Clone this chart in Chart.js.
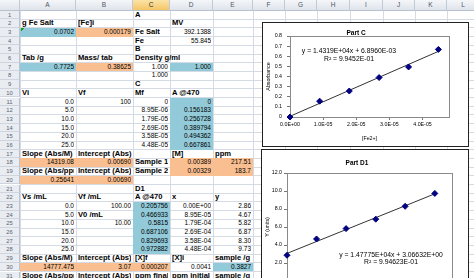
<!DOCTYPE html>
<html>
<head>
<meta charset="utf-8">
<script src="https://cdn.jsdelivr.net/npm/chart.js@4.4.1/dist/chart.umd.min.js"></script>
<style>
  html, body { margin: 0; padding: 0; background: #fff; }
  #sheet { position: relative; width: 474px; height: 278px; overflow: hidden;
           font-family: "Liberation Sans", Arial, sans-serif; background: #fff; }
  .gl { position: absolute; background: #d5dbe5; }
  .fill { position: absolute; }
  .cell { position: absolute; white-space: nowrap; overflow: hidden; font-size: 6.5px; color: #000; }
  .cell.b { font-weight: bold; font-size: 7.6px; }
  .hdr { position: absolute; background: linear-gradient(#f4f6f9, #dfe4eb); color: #4d5563;
         font-size: 6.5px; text-align: center; box-sizing: border-box;
         border-right: 1px solid #c3cad6; border-bottom: 1px solid #b9c2cf; }
  .hdr.sel { background: linear-gradient(#fbe3a6, #f4c667); color: #333; }
  .rowh { position: absolute; left: 0; width: 20px; background: #e9ecf1; color: #5a6270;
          font-size: 5.8px; text-align: center; box-sizing: border-box;
          border-right: 1px solid #b9c2cf; border-bottom: 1px solid #cfd5de; }
  .chartbox { position: absolute; border: 1px solid #222; background: #fff; }
  .chartbox canvas { position: absolute; left: 0; top: 0; }
</style>
</head>
<body>
<div id="sheet"></div>
<script>
// ---- sheet contents ----
// [cell, text, kind]  kind: 'b' = bold label (left), 'n' = number (right)
const SHEET_CELLS = [
  ['C1', 'A', 'b'],
  ['A2', 'g Fe Salt', 'b'], ['B2', '[Fe]i', 'b'], ['D2', 'MV', 'b'],
  ['A3', '0.0702', 'n'], ['B3', '0.000179', 'n'], ['C3', 'Fe Salt', 'b'], ['D3', '392.1388', 'n'],
  ['C4', 'Fe', 'b'], ['D4', '55.845', 'n'],
  ['C5', 'B', 'b'],
  ['A6', 'Tab /g', 'b'], ['B6', 'Mass/ tab', 'b'], ['C6', 'Density g/ml', 'b'],
  ['A7', '0.7725', 'n'], ['B7', '0.38625', 'n'], ['C7', '1.000', 'n'], ['D7', '1.000', 'n'],
  ['C8', '1.000', 'n'],
  ['C9', 'C', 'b'],
  ['A10', 'Vi', 'b'], ['B10', 'Vf', 'b'], ['C10', 'Mf', 'b'], ['D10', 'A @470', 'b'],
  ['A11', '0.0', 'n'], ['B11', '100', 'n'], ['C11', '0', 'n'], ['D11', '0', 'n'],
  ['A12', '5.0', 'n'], ['C12', '8.95E-06', 'n'], ['D12', '0.156183', 'n'],
  ['A13', '10.0', 'n'], ['C13', '1.79E-05', 'n'], ['D13', '0.256728', 'n'],
  ['A14', '15.0', 'n'], ['C14', '2.69E-05', 'n'], ['D14', '0.389794', 'n'],
  ['A15', '20.0', 'n'], ['C15', '3.58E-05', 'n'], ['D15', '0.494362', 'n'],
  ['A16', '25.0', 'n'], ['C16', '4.48E-05', 'n'], ['D16', '0.667861', 'n'],
  ['A17', 'Slope (Abs/M)', 'b'], ['B17', 'Intercept (Abs)', 'b'], ['D17', '[M]', 'b'], ['E17', 'ppm', 'b'],
  ['A18', '14319.08', 'n'], ['B18', '0.00690', 'n'], ['C18', 'Sample 1', 'b'], ['D18', '0.00389', 'n'], ['E18', '217.51', 'n'],
  ['A19', 'Slope (Abs/ppm)', 'b'], ['B19', 'Intercept (Abs)', 'b'], ['C19', 'Sample 2', 'b'], ['D19', '0.00329', 'n'], ['E19', '183.7', 'n'],
  ['A20', '0.25641', 'n'], ['B20', '0.00690', 'n'],
  ['C21', 'D1', 'b'],
  ['A22', 'Vs /mL', 'b'], ['B22', 'Vf /mL', 'b'], ['C22', 'A @470', 'b'], ['D22', 'x', 'b'], ['E22', 'y', 'b'],
  ['A23', '0.0', 'n'], ['B23', '100.00', 'n'], ['C23', '0.205756', 'n'], ['D23', '0.00E+00', 'n'], ['E23', '2.86', 'n'],
  ['A24', '5.0', 'n'], ['B24', 'V0 /mL', 'b'], ['C24', '0.466933', 'n'], ['D24', '8.95E-05', 'n'], ['E24', '4.67', 'n'],
  ['A25', '10.0', 'n'], ['B25', '10.00', 'n'], ['C25', '0.5815', 'n'], ['D25', '1.79E-04', 'n'], ['E25', '5.82', 'n'],
  ['A26', '15.0', 'n'], ['C26', '0.687106', 'n'], ['D26', '2.69E-04', 'n'], ['E26', '6.87', 'n'],
  ['A27', '20.0', 'n'], ['C27', '0.829693', 'n'], ['D27', '3.58E-04', 'n'], ['E27', '8.30', 'n'],
  ['A28', '25.0', 'n'], ['C28', '0.972882', 'n'], ['D28', '4.48E-04', 'n'], ['E28', '9.73', 'n'],
  ['A29', 'Slope (Abs/M)', 'b'], ['B29', 'Intercept (Abs)', 'b'], ['C29', '[X]f', 'b'], ['D29', '[X]i', 'b'], ['E29', 'sample /g', 'b'],
  ['A30', '14777.475', 'n'], ['B30', '3.07', 'n'], ['C30', '0.000207', 'n'], ['D30', '0.0041', 'n'], ['E30', '0.3827', 'n'],
  ['A31', 'Slope (Abs/ppm)', 'b'], ['B31', 'Intercept (Abs)', 'b'], ['C31', 'ppm final', 'b'], ['D31', 'ppm initial', 'b'], ['E31', 'sample /g', 'b']
];
const BLUE_CELLS = ['A3', 'A7', 'D7', 'D11', 'D12', 'D13', 'D14', 'D15', 'D16',
  'C23', 'C24', 'C25', 'C26', 'C27', 'C28', 'E30'];
const ORANGE_CELLS = ['B3', 'B7', 'A18', 'B18', 'D18', 'E18', 'D19', 'E19', 'A20', 'B20',
  'A30', 'B30', 'C30'];

// ---- chart data ----
const PART_C_MF = [0, 8.95e-6, 1.79e-5, 2.69e-5, 3.58e-5, 4.48e-5];
const PART_C_ABS = [0, 0.156183, 0.256728, 0.389794, 0.494362, 0.667861];
const PART_C_FIT = [1.4319e4, 6.8960e-3, 9.9452e-1];      // slope, intercept, R2
const PART_C_X_AXIS = [0, 4.8e-5, 1e-5];                   // min, max, step
const PART_C_Y_AXIS = [0, 0.8, 0.1];

const PART_D1_X = [0, 8.95e-5, 1.79e-4, 2.69e-4, 3.58e-4, 4.48e-4];
const PART_D1_Y = [2.86, 4.67, 5.82, 6.87, 8.30, 9.73];
const PART_D1_FIT = [1.47775e4, 3.06632, 9.94623e-1];
const PART_D1_X_AXIS = [0, 5e-4, 1e-4];
const PART_D1_Y_AXIS = [0, 12, 2];

const COL_NAMES = ['A', 'B', 'C', 'D', 'E', 'F', 'G', 'H', 'I', 'J', 'K', 'L'];
const COL_EDGES = [20, 76, 133, 170, 213, 253, 285, 317, 350, 383, 415, 447, 480];
const HEADER_H = 10.5;
const ROW_H = 8.7;
const ROW_COUNT = 31;
const BLUE = '#92cad9';
const ORANGE = '#f9bf90';
const FONT = '"Liberation Sans", Arial, sans-serif';

const sheet = document.getElementById('sheet');

function addDiv(cls, l, t, w, h, text) {
  const d = document.createElement('div');
  d.className = cls;
  d.style.left = l + 'px';
  d.style.top = t + 'px';
  d.style.width = w + 'px';
  d.style.height = h + 'px';
  if (text !== undefined) {
    d.textContent = text;
    d.style.lineHeight = h + 'px';
  }
  sheet.appendChild(d);
  return d;
}

function parseRef(ref) {
  return { col: COL_NAMES.indexOf(ref[0]), row: parseInt(ref.slice(1), 10) };
}
const rowTop = r => HEADER_H + (r - 1) * ROW_H;

// grid lines
for (let r = 1; r <= ROW_COUNT + 1; r++) addDiv('gl', 20, rowTop(r) - 0.5, 460, 1);
COL_EDGES.forEach(x => addDiv('gl', x - 0.5, HEADER_H, 1, 280));

// fills
function paint(list, color) {
  list.forEach(ref => {
    const { col, row } = parseRef(ref);
    const d = addDiv('fill', COL_EDGES[col], rowTop(row), COL_EDGES[col + 1] - COL_EDGES[col], ROW_H);
    d.style.background = color;
  });
}
paint(BLUE_CELLS, BLUE);
paint(ORANGE_CELLS, ORANGE);

// cell texts (left text overflows into empty neighbours, like Excel)
const occupied = new Set(SHEET_CELLS.map(c => c[0]));
SHEET_CELLS.forEach(([ref, text, kind]) => {
  const { col, row } = parseRef(ref);
  const left = COL_EDGES[col];
  let right = COL_EDGES[col + 1];
  if (kind === 'b') {
    let c = col + 1;
    while (c < COL_NAMES.length && !occupied.has(COL_NAMES[c] + row)) c++;
    right = COL_EDGES[Math.min(c, COL_NAMES.length)];
  }
  const d = addDiv('cell ' + kind, left + 2, rowTop(row), right - left - 4, ROW_H, text);
  d.style.textAlign = kind === 'n' ? 'right' : 'left';
});

// error marker on A3
const tri = addDiv('fill', COL_EDGES[0] + 1, rowTop(3) + 0.5, 4, 4);
tri.style.background = 'linear-gradient(135deg, #1a9a1a 50%, transparent 50%)';

// headers
addDiv('hdr', 0, 0, 20, HEADER_H);
COL_NAMES.forEach((n, i) => {
  addDiv('hdr' + (n === 'C' ? ' sel' : ''), COL_EDGES[i], 0, COL_EDGES[i + 1] - COL_EDGES[i], HEADER_H, n);
});
for (let r = 1; r <= ROW_COUNT; r++) addDiv('rowh', 0, rowTop(r), 20, ROW_H, String(r));

// ---- charts ----
function sci(v, digits) {
  const [m, e] = v.toExponential(digits).split('e');
  const n = parseInt(e, 10);
  return m + 'E' + (n < 0 ? '-' : '+') + String(Math.abs(n)).padStart(2, '0');
}

function trendPoints(xs, fit) {
  const x0 = Math.min(...xs), x1 = Math.max(...xs);
  return [{ x: x0, y: fit[0] * x0 + fit[1] }, { x: x1, y: fit[0] * x1 + fit[1] }];
}

const plotFrame = {
  id: 'plotFrame',
  beforeDatasetsDraw(chart) {
    const { ctx, chartArea: a } = chart;
    ctx.save();
    ctx.strokeStyle = '#8a8a8a';
    ctx.lineWidth = 1;
    ctx.strokeRect(Math.round(a.left) + 0.5, Math.round(a.top) + 0.5,
      Math.round(a.right) - Math.round(a.left), Math.round(a.bottom) - Math.round(a.top));
    ctx.restore();
  }
};

const trendLabel = {
  id: 'trendLabel',
  afterDraw(chart, args, opts) {
    const ctx = chart.ctx;
    ctx.save();
    ctx.font = opts.size + 'px ' + FONT;
    ctx.fillStyle = '#000';
    ctx.textAlign = 'center';
    ctx.textBaseline = 'middle';
    opts.lines.forEach((t, i) => ctx.fillText(t, opts.x, opts.y + i * opts.gap));
    ctx.restore();
  }
};

function makeChart(box, cfg) {
  const div = document.createElement('div');
  div.className = 'chartbox';
  div.style.left = box.left + 'px';
  div.style.top = box.top + 'px';
  div.style.width = box.width + 'px';
  div.style.height = box.height + 'px';
  const canvas = document.createElement('canvas');
  canvas.width = box.width;
  canvas.height = box.height;
  div.appendChild(canvas);
  sheet.appendChild(div);

  const points = cfg.xs.map((x, i) => ({ x, y: cfg.ys[i] }));
  return new Chart(canvas, {
    type: 'scatter',
    data: {
      datasets: [
        { data: points, pointStyle: 'rectRot', pointRadius: 3, backgroundColor: '#000080',
          borderColor: '#000080', borderWidth: 1, clip: false, order: 0 },
        { data: trendPoints(cfg.xs, cfg.fit), showLine: true, pointRadius: 0,
          borderColor: '#333333', borderWidth: 1, clip: false, order: 1 }
      ]
    },
    options: {
      responsive: false,
      animation: false,
      devicePixelRatio: 1,
      layout: { padding: { left: 0, right: box.padRight, top: 0, bottom: 0 } },
      plugins: {
        legend: { display: false },
        tooltip: { enabled: false },
        title: { display: true, text: cfg.title, color: '#000',
                 font: { family: FONT, size: 6.5, weight: 'bold', lineHeight: 1 },
                 padding: cfg.titlePad },
        trendLabel: cfg.label
      },
      scales: {
        x: {
          type: 'linear', min: cfg.xAxis[0], max: cfg.xAxis[1],
          ticks: { stepSize: cfg.xAxis[2], includeBounds: false, autoSkip: false, maxRotation: 0,
                   callback: v => sci(v, 1), color: '#000', padding: 1,
                   font: { family: FONT, size: 5.3 } },
          grid: { drawOnChartArea: false, tickLength: 3, color: '#777' },
          border: { color: '#777' },
          title: { display: true, text: cfg.xTitle, color: '#000',
                   font: { family: FONT, size: 5.3 }, padding: { top: 0, bottom: 4 } },
          afterFit: s => { s.height = box.xHeight; }
        },
        y: {
          type: 'linear', min: cfg.yAxis[0], max: cfg.yAxis[1],
          ticks: { stepSize: cfg.yAxis[2], callback: cfg.yFmt, color: '#000', padding: cfg.yTickPad,
                   font: { family: FONT, size: 5.3 } },
          grid: { drawOnChartArea: false, tickLength: 3, color: '#777' },
          border: { color: '#777' },
          title: { display: true, text: cfg.yTitle, color: '#000',
                   font: { family: FONT, size: 5.3 }, padding: { top: 2, bottom: 0 } },
          afterFit: s => { s.width = box.yWidth; }
        }
      }
    },
    plugins: [plotFrame, trendLabel]
  });
}

makeChart(
  { left: 262, top: 22, width: 205, height: 123, padRight: 19, xHeight: 29, yWidth: 27 },
  {
    xs: PART_C_MF, ys: PART_C_ABS, fit: PART_C_FIT, xAxis: PART_C_X_AXIS, yAxis: PART_C_Y_AXIS,
    title: 'Part C', titlePad: { top: 6.5, bottom: 0 },
    xTitle: '[Fe2+]', yTitle: 'Absorbance', yTickPad: 5,
    yFmt: v => (v === 0 ? '0' : v.toFixed(1)),
    label: { size: 6.8, x: 86, y: 28, gap: 8.5,
             lines: ['y = ' + sci(PART_C_FIT[0], 4) + 'x + ' + sci(PART_C_FIT[1], 4),
                     'R\u00B2 = ' + sci(PART_C_FIT[2], 4)] }
  }
);

makeChart(
  { left: 261, top: 149, width: 206, height: 160, padRight: 16, xHeight: 29, yWidth: 25 },
  {
    xs: PART_D1_X, ys: PART_D1_Y, fit: PART_D1_FIT, xAxis: PART_D1_X_AXIS, yAxis: PART_D1_Y_AXIS,
    title: 'Part D1', titlePad: { top: 9.7, bottom: 6.8 },
    xTitle: 'x', yTitle: 'Y (units)', yTickPad: 2,
    yFmt: v => v.toFixed(1),
    label: { size: 6.8, x: 129, y: 105, gap: 7.5,
             lines: ['y = ' + sci(PART_D1_FIT[0], 5) + 'x + ' + sci(PART_D1_FIT[1], 5),
                     'R\u00B2 = ' + sci(PART_D1_FIT[2], 5)] }
  }
);
</script>
</body>
</html>
